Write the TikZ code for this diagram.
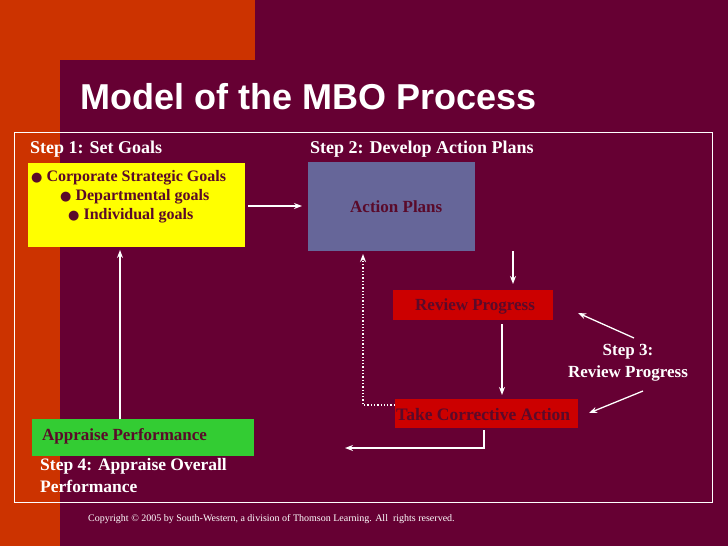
\documentclass[tikz,border=0pt]{standalone}
\usepackage{fontspec}
\setmainfont{Liberation Serif}
\newfontfamily\titlefont{Liberation Sans}
\newfontfamily\symf{DejaVu Sans}
\usetikzlibrary{arrows.meta}
\definecolor{maroon}{HTML}{660033}
\definecolor{orng}{HTML}{CC3300}
\definecolor{txtm}{HTML}{5A0A2A}
\definecolor{ylw}{HTML}{FFFF00}
\definecolor{plum}{HTML}{666699}
\definecolor{redb}{HTML}{CC0000}
\definecolor{grn}{HTML}{33CC33}
\newcommand{\bdot}{{\symf\fontsize{13}{13}\selectfont ●}\ }
\tikzset{
  wl/.style={draw=white,line width=1.3pt,-{Stealth[length=8pt,width=6pt]}},
  lbl/.style={text=white,font=\bfseries\fontsize{18}{21}\selectfont,anchor=west,inner sep=0pt},
  boxt/.style={text=txtm,font=\bfseries\fontsize{17}{20}\selectfont,inner sep=0pt},
  gt/.style={boxt,anchor=west,font=\bfseries\fontsize{16}{19}\selectfont},
}
\begin{document}
\begin{tikzpicture}[x=1pt,y=-1pt]
\useasboundingbox (0,0) rectangle (728,546);
\fill[maroon] (0,0) rectangle (728,546);
\fill[orng] (0,0) rectangle (255,60);
\fill[orng] (0,0) rectangle (60,546);
\fill[maroon] (60,546) -- (60,80) arc[start angle=180,end angle=90,x radius=20,y radius=-20] -- (728,60) -- (728,546) -- cycle;
\node[anchor=base west,text=white,inner sep=0pt,font=\titlefont\bfseries\fontsize{36}{40}\selectfont] (title) at (80,109) {Model of the MBO Process};
\draw[white,line width=0.8pt] (14,132) rectangle (712,502);
\node[lbl] (s1) at (30,149) {Step 1: Set Goals};
\node[lbl] (s2) at (310,149) {Step 2: Develop Action Plans};
\node[fill=ylw,minimum width=217,minimum height=84,anchor=north west,inner sep=0] (goals) at (28,163) {};
\node[gt] (g1) at (31,178) {\bdot Corporate Strategic Goals};
\node[gt] (g2) at (60,197) {\bdot Departmental goals};
\node[gt] (g3) at (68,216) {\bdot Individual goals};
\node[fill=plum,minimum width=167,minimum height=89,anchor=north west,inner sep=0] (ap) at (308,162) {};
\node[boxt,anchor=west] (apt) at (350,207) {Action Plans};
\node[fill=redb,minimum width=160,minimum height=30,anchor=north west,inner sep=0] (rp) at (393,290) {};
\node[boxt,anchor=west] (rpt) at (415,306) {Review Progress};
\node[fill=redb,minimum width=183,minimum height=29,anchor=north west,inner sep=0] (tc) at (395,399) {};
\node[boxt,anchor=west,font=\bfseries\fontsize{17.5}{20}\selectfont] (tct) at (396,415) {Take Corrective Action};
\node[fill=grn,minimum width=222,minimum height=37,anchor=north west,inner sep=0] (apf) at (32,419) {};
\node[boxt,anchor=west] (apft) at (42,436) {Appraise Performance};
\node[text=white,font=\bfseries\fontsize{17}{22}\selectfont,align=center,inner sep=0] (s3) at (628,363) {Step 3:\\Review Progress};
\node[lbl,align=left,anchor=north west,font=\bfseries\fontsize{17.5}{22}\selectfont] (s4) at (40,458) {Step 4: Appraise Overall\\Performance};
\node[anchor=west,text=white,inner sep=0,font=\fontsize{10}{12}\selectfont] (cp) at (88,519) {Copyright \textcopyright\ 2005 by South-Western, a division of Thomson Learning. All\ \ rights reserved.};
\node[anchor=west,text=orng,inner sep=0,font=\bfseries\fontsize{7}{8}\selectfont] (pg) at (8,537) {18};
\coordinate (c1) at (363,405);
\coordinate (c2) at (484,448);
\coordinate (c3) at (345,448);
\coordinate (c4) at (634,338);
\coordinate (c5) at (578,313);
\coordinate (c6) at (643,391);
\coordinate (c7) at (589,413);
\draw[wl] (goals.east |- 0,206) ++(3,0) -- (302,206);
\draw[wl] (513,251) -- (513,284);
\draw[wl] (502,324) -- (502,395);
\draw[wl,dotted] (tc.west |- c1) -- (c1) -- (363,254);
\draw[wl] (484,430) -- (c2) -- (c3);
\draw[wl] (120,419) -- (120,250);
\draw[wl] (c4) -- (c5);
\draw[wl] (c6) -- (c7);
\end{tikzpicture}
\end{document}
